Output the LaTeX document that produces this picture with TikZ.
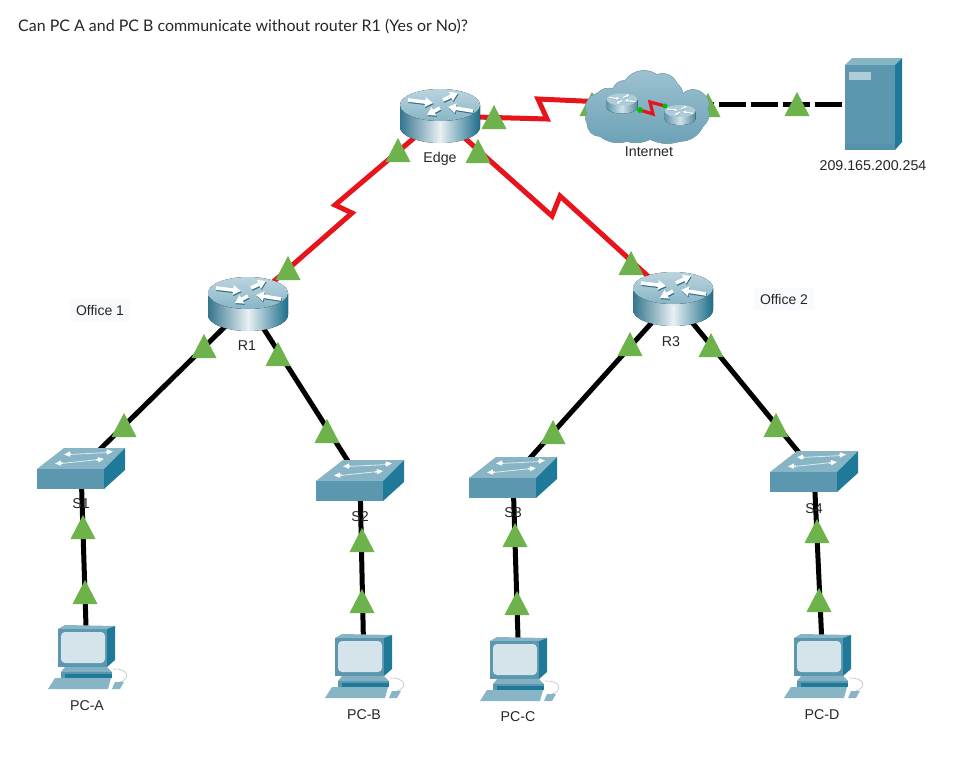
\documentclass[tikz,border=0pt]{standalone}
\usepackage{fontspec}
\setmainfont{Liberation Sans}
\newfontfamily\qfont{Lato}
\usetikzlibrary{arrows.meta,calc}
\definecolor{triG}{HTML}{6DB24A}
\definecolor{linkR}{HTML}{E8141C}
\definecolor{teal1}{HTML}{5B97AE}
\definecolor{teal2}{HTML}{1F7A99}
\definecolor{teal3}{HTML}{8DB8C8}
\definecolor{teal4}{HTML}{2F6F88}
\definecolor{scr}{HTML}{D5E3EA}
\definecolor{offbg}{HTML}{F9FAFD}
\newcommand{\rarrows}[4]{% scale, line width, y offset, shadow colour
  \foreach \ax/\ay/\bx/\by in {-32/-5/-7/-2, 3/-5/18/-12, 0/3/-13/10, 33/6/8/2}{
    \draw[line width=#2,#4,-{Triangle[length=0pt 2.2 0,width=0pt 2.6 0]}]
      ({(\ax+0.6)*#1},{(\ay+1.2)*#1+#3}) -- ({(\bx+0.6)*#1},{(\by+1.2)*#1+#3});
    \draw[line width=#2,white,-{Triangle[length=0pt 2.2 0,width=0pt 2.6 0]}]
      ({\ax*#1},{\ay*#1+#3}) -- ({\bx*#1},{\by*#1+#3});
  }}
\tikzset{
  dev/.style={inner sep=0pt,outer sep=0pt,draw=none},
  lab/.style={inner sep=0pt,yshift=-1pt,font=\fontsize{14.2}{16}\selectfont,text=black!85},
  off/.style={fill=offbg,inner sep=6pt,font=\fontsize{14}{16}\selectfont,text=black!85},
  serial/.style={draw=linkR,line width=5pt,line join=miter},
  eth/.style={draw=black,line width=5pt},
  cloudlink/.style={draw=black,line width=5pt,dash pattern=on 27pt off 5pt,dash phase=25pt},
  swarrow/.style={white,line width=1.2pt,-{Triangle[length=6pt,width=5pt]}},
  pics/tri/.style={code={\fill[triG] (-12.5,12) -- (0,-12) -- (12.5,12) -- cycle;}},
  pics/router/.style={code={
    \fill[left color=teal4!85!teal1,right color=teal2!90!black,middle color=white!80!teal3]
      (-40,-11) -- (-40,11) arc[start angle=180,end angle=360,x radius=40pt,y radius=16pt]
      -- (40,-11) -- cycle;
    \fill[top color=teal3!60!white,bottom color=teal3!90!teal1] (0,-11) ellipse[x radius=40pt,y radius=16pt];
    \rarrows{1}{3.6pt}{-11}{teal4}
  }},
  pics/minirouter/.style={code={
    \fill[left color=teal1,right color=teal1!90!black,middle color=white!60!teal3]
      (-15.5,-4) -- (-15.5,4) arc[start angle=180,end angle=360,x radius=15.5pt,y radius=6pt]
      -- (15.5,-4) -- cycle;
    \fill[teal3!70!white] (0,-4) ellipse[x radius=15.5pt,y radius=6pt];
    \rarrows{0.4}{1.2pt}{-4}{teal4!70}
  }},
  pics/switch/.style={code={
    \fill[teal3!90!teal1] (-44,1) -- (-17,-20) -- (44,-20) -- (23,1) -- cycle;
    \fill[teal1] (-44,1) rectangle (23,21);
    \fill[teal2] (23,1) -- (44,-20) -- (44,2) -- (23,21) -- cycle;
    \draw[teal3!30!white,line width=.8pt] (-13,-13.5) -- (28,-15.5) (-20,-4.5) -- (18,-8.5);
    \draw[swarrow] (-10,-14) -- (-17,-13.5);
    \draw[swarrow] (25,-16) -- (32,-16.5);
    \draw[swarrow] (-18,-5) -- (-26,-4.5);
    \draw[swarrow] (15,-8) -- (23,-9);
  }},
  pics/pc/.style={code={
    \draw[black!25,line width=.6pt] (33,24) .. controls (45,20) and (40,10) .. (26,11);
    \fill[teal3!90!teal1] (-29,-29) -- (-22,-33) -- (28,-32) -- (20,-29) -- cycle;
    \fill[teal2] (20,-29) -- (28,-32) -- (28,2) -- (20,9) -- cycle;
    \fill[teal1] (-29,-29) rectangle (20,9);
    \fill[scr,rounded corners=4pt] (-26,-26) rectangle (18,5);
    \fill[teal3!80!teal1] (-22,9) -- (20,9) -- (25,14) -- (-26,14) -- cycle;
    \fill[teal1] (-26,14) rectangle (25,20);
    \fill[teal2] (-22,16) rectangle (25,20);
    \fill[teal3!90!teal1] (-39,31) -- (-32,20) -- (24,20) -- (21,31) -- cycle;
    \fill[teal3!90!teal1] (25,31) -- (28,24) -- (37,24) -- (33,31) -- cycle;
  }},
  pics/server/.style={code={
    \fill[teal3!90!teal1] (-28,-39) -- (-21,-46) -- (29,-46) -- (22,-39) -- cycle;
    \fill[teal2] (22,-39) -- (29,-46) -- (29,38) -- (22,46) -- cycle;
    \fill[teal1] (-28,-39) rectangle (22,46);
    \fill[teal1!85!teal2] (-28,40) rectangle (22,46);
    \fill[teal3!70!white] (-24,-32) rectangle (-2,-24);
  }},
  pics/cloud/.style={code={
    \fill[top color=teal3!85!white,bottom color=teal1!90!white,draw=teal4!60,line width=.5pt]
      (-61,6) to[bend left=55] (-51,-14) to[bend left=30] (-35,-19)
      to[bend left=35] (-23,-27) to[bend left=45] (9,-33)
      to[bend left=45] (29,-24) to[bend left=20] (35,-14)
      to[bend left=45] (55,-14) to[bend left=40] (60,1)
      to[bend left=35] (55,19) to[bend left=30] (32,34)
      to[bend left=20] (2,32) to[bend left=20] (-21,34)
      to[bend left=25] (-48,29) to[bend left=45] (-61,16) to[bend left=30] cycle;
  }}
}
\begin{document}
\begin{tikzpicture}[x=1pt,y=-1pt]
\useasboundingbox[fill=white] (0,0) rectangle (969,758);
% anchors for the devices
\node[dev,minimum width=80pt,minimum height=54pt] (Edge) at (440,116) {};
\node[dev,minimum width=80pt,minimum height=54pt] (R1) at (248,304) {};
\node[dev,minimum width=80pt,minimum height=54pt] (R3) at (673,299) {};
\node[dev,minimum width=124pt,minimum height=70pt] (Internet) at (648,104) {};
\node[dev,minimum width=57pt,minimum height=92pt] (Server) at (873,104) {};
\node[dev,minimum width=89pt,minimum height=42pt] (S1) at (81,468) {};
\node[dev,minimum width=89pt,minimum height=42pt] (S2) at (360,480) {};
\node[dev,minimum width=89pt,minimum height=42pt] (S3) at (513,477) {};
\node[dev,minimum width=89pt,minimum height=42pt] (S4) at (814,471) {};
\node[dev,minimum width=76pt,minimum height=64pt] (PCA) at (87,658) {};
\node[dev,minimum width=76pt,minimum height=64pt] (PCB) at (364,667) {};
\node[dev,minimum width=76pt,minimum height=64pt] (PCC) at (519,670) {};
\node[dev,minimum width=76pt,minimum height=64pt] (PCD) at (823,667) {};
\coordinate (z1a) at (547,119); \coordinate (z1b) at (538,99);
\coordinate (z2a) at (335,205); \coordinate (z2b) at (352,213);
\coordinate (z3a) at (552,216); \coordinate (z3b) at (560,196);
% connectors
\draw[serial] (Edge.center) -- (z1a) -- (z1b) -- (Internet.center);
\draw[serial] (Edge.center) -- (z2a) -- (z2b) -- (R1.center);
\draw[serial] (Edge.center) -- (z3a) -- (z3b) -- (R3.center);
\draw[cloudlink] (Internet.center) -- (Server.center);
\draw[eth] (R1.center) -- (S1.center);
\draw[eth] (R1.center) -- (S2.center);
\draw[eth] (R3.center) -- (S3.center);
\draw[eth] (R3.center) -- (S4.center);
\draw[eth] (S1.center) -- (PCA.center);
\draw[eth] (S2.center) -- (PCB.center);
\draw[eth] (S3.center) -- (PCC.center);
\draw[eth] (S4.center) -- (PCD.center);
% link lights hidden behind the cloud
\pic at (592,104) {tri};
\pic at (708,105) {tri};
% devices
\pic at (Edge) {router};
\pic at (R1) {router};
\pic at (R3) {router};
\pic[yshift=-3.5pt] at (Internet) {cloud};
\pic at (622,103.5) {minirouter};
\pic at (680,115) {minirouter};
\coordinate (ma) at (640,110); \coordinate (mb) at (665,106);
\draw[linkR,line width=3.2pt] (ma) -- (653,114) -- (650,102) -- (mb);
\fill[green!75!black] (ma) circle (3pt) (mb) circle (2.5pt);
\pic at (Server) {server};
\pic at (S1) {switch};
\pic at (S2) {switch};
\pic at (S3) {switch};
\pic at (S4) {switch};
\pic at (PCA) {pc};
\pic at (PCB) {pc};
\pic at (PCC) {pc};
\pic at (PCD) {pc};
% link lights
\foreach \tx/\ty in {398/150,478/151,494/117,797/104,288/268,204/346,278/354,
  124/425,327/431,631/263,630/344,711/345,553/432,776/425,
  83/527,85/592,362/540,362/601,515/535,517/603,817/531,819/600}{
  \pic at (\tx,\ty) {tri};
}
% labels
\node[lab] (lEdge) at (440,158) {Edge};
\node[lab] (lInt) at (649,151) {Internet};
\node[lab] (lSrv) at (873,165) {209.165.200.254};
\node[lab] (lR1) at (247,345) {R1};
\node[lab] (lR3) at (671,341) {R3};
\node[lab] (lS1) at (81,503) {S1};
\node[lab] (lS2) at (360,516) {S2};
\node[lab] (lS3) at (513,512) {S3};
\node[lab] (lS4) at (814,508) {S4};
\node[lab] (lA) at (87,705) {PC-A};
\node[lab] (lB) at (364,714) {PC-B};
\node[lab] (lC) at (518,716) {PC-C};
\node[lab] (lD) at (822,714) {PC-D};
\node[off] (o1) at (100,310) {Office 1};
\node[off] (o2) at (784,299) {Office 2};
\node[anchor=west,inner sep=0pt,font=\qfont\fontsize{15.95}{18}\selectfont,text=black!85] (q) at (18,26)
  {Can PC A and PC B communicate without router R1 (Yes or No)?};
\end{tikzpicture}
\end{document}
